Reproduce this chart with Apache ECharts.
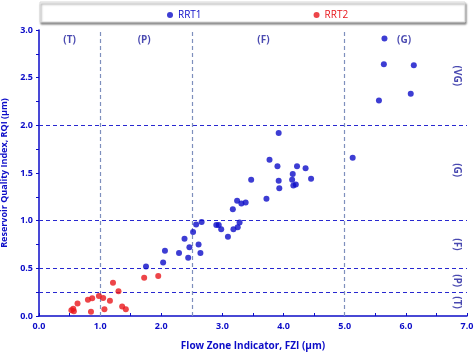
<!DOCTYPE html>
<html>
<head>
<meta charset="utf-8">
<script src="https://cdn.jsdelivr.net/npm/echarts@6/dist/echarts.min.js"></script>
<style>
  html, body { margin: 0; padding: 0; background: #fff; }
  #chart { width: 474px; height: 353px; }
</style>
</head>
<body>
<div id="chart"></div>
<script>
// RRT1 points [FZI, RQI]
const rrt1Points = [
  [1.75, 0.52], [2.03, 0.56], [2.06, 0.685], [2.29, 0.66], [2.38, 0.81],
  [2.44, 0.61], [2.46, 0.72], [2.52, 0.88], [2.57, 0.96], [2.66, 0.985],
  [2.61, 0.75], [2.64, 0.66], [2.90, 0.955], [2.94, 0.955], [2.98, 0.91],
  [3.09, 0.83], [3.18, 0.91], [3.25, 0.93], [3.28, 0.98], [3.17, 1.12],
  [3.24, 1.21], [3.31, 1.18], [3.38, 1.19], [3.72, 1.23], [3.47, 1.43],
  [3.77, 1.64], [3.92, 1.92], [3.90, 1.57], [3.92, 1.42], [3.93, 1.34],
  [4.15, 1.49], [4.14, 1.43], [4.16, 1.37], [4.20, 1.38], [4.22, 1.57],
  [4.36, 1.55], [4.45, 1.44], [5.13, 1.66], [5.65, 2.91], [5.64, 2.64],
  [6.13, 2.63], [5.56, 2.26], [6.08, 2.33]
];

// RRT2 points [FZI, RQI]
const rrt2Points = [
  [0.53, 0.06], [0.56, 0.075], [0.57, 0.05], [0.63, 0.13], [0.80, 0.17],
  [0.87, 0.185], [0.85, 0.045], [0.98, 0.21], [1.05, 0.19], [1.07, 0.07],
  [1.16, 0.16], [1.21, 0.35], [1.30, 0.26], [1.36, 0.10], [1.42, 0.07],
  [1.72, 0.40], [1.95, 0.42]
];

// zone boundaries
const fziBounds = [1.0, 2.5, 5.0];
const rqiBounds = [2.0, 1.0, 0.5, 0.25];

// zone labels
const topLabels = [["(T)", 0.5, 2.89], ["(P)", 1.72, 2.89], ["(F)", 3.67, 2.89], ["(G)", 5.97, 2.89]];
const sideLabels = [["(VG)", 6.83, 2.52], ["(G)", 6.83, 1.53], ["(F)", 6.83, 0.75], ["(P)", 6.83, 0.37], ["(T)", 6.83, 0.14]];

const blue = "#0c0cc8";
const red = "#e8161b";
const fontFam = "'Open Sans', 'Noto Sans', sans-serif";

const chart = echarts.init(document.getElementById("chart"));

const option = {
  animation: false,
  textStyle: { fontFamily: fontFam },
  graphic: [
    {
      type: "rect",
      shape: { x: 40, y: 2, width: 425, height: 20 },
      style: {
        fill: "#fff",
        stroke: "#d8d8d8",
        lineWidth: 1,
        shadowBlur: 2,
        shadowOffsetX: 1,
        shadowOffsetY: 2,
        shadowColor: "rgba(0,0,0,0.45)"
      },
      z: 0
    }
  ],
  legend: {
    left: 162,
    top: 5,
    itemGap: 112,
    itemWidth: 6,
    itemHeight: 6,
    icon: "circle",
    z: 10,
    data: [
      { name: "RRT1", textStyle: { color: blue } },
      { name: "RRT2", textStyle: { color: red } }
    ],
    textStyle: { fontSize: 10, fontFamily: fontFam }
  },
  grid: { left: 39, right: 7, top: 30, bottom: 37, outerBoundsMode: "none" },
  xAxis: {
    type: "value",
    min: 0,
    max: 7,
    interval: 0.5,
    name: "Flow Zone Indicator, FZI (μm)",
    nameLocation: "middle",
    nameGap: 25,
    nameTextStyle: { color: blue, fontWeight: "bold", fontSize: 10 },
    axisLine: { show: true, lineStyle: { color: blue, width: 1.5 } },
    axisTick: { show: true, inside: true, length: 3, lineStyle: { color: blue } },
    axisLabel: {
      color: blue,
      fontWeight: "bold",
      fontSize: 9,
      margin: 6,
      formatter: v => (Math.abs(v % 1) < 1e-9 ? v.toFixed(1) : "")
    },
    splitLine: { show: false }
  },
  yAxis: {
    type: "value",
    min: 0,
    max: 3,
    interval: 0.5,
    name: "Reservoir Quality Index, RQI (μm)",
    nameLocation: "middle",
    nameGap: 26,
    nameTextStyle: { color: blue, fontWeight: "bold", fontSize: 9 },
    axisLine: { show: true, lineStyle: { color: blue, width: 1.5 } },
    axisTick: { show: true, length: 3, lineStyle: { color: blue } },
    minorTick: { show: true, splitNumber: 2, length: 3, lineStyle: { color: blue } },
    axisLabel: {
      color: blue,
      fontWeight: "bold",
      fontSize: 9,
      margin: 6,
      formatter: v => v.toFixed(1)
    },
    splitLine: { show: false }
  },
  series: [
    {
      name: "RRT1",
      type: "scatter",
      symbolSize: 6,
      itemStyle: { color: blue },
      data: rrt1Points,
      z: 5,
      markLine: {
        silent: true,
        symbol: "none",
        animation: false,
        label: { show: false },
        data: [
          ...rqiBounds.map(v => ({ yAxis: v, lineStyle: { color: "#2828d0", type: [4, 3], width: 1.2 } })),
          ...fziBounds.map(v => ({ xAxis: v, lineStyle: { color: "#7e8fbd", type: [4, 3], width: 1.2 } }))
        ]
      }
    },
    {
      name: "RRT2",
      type: "scatter",
      symbolSize: 6,
      itemStyle: { color: red },
      data: rrt2Points,
      z: 5
    },
    {
      name: "topZones",
      type: "scatter",
      symbolSize: 0,
      silent: true,
      data: topLabels.map(d => ({ value: [d[1], d[2]], name: d[0] })),
      label: {
        show: true,
        position: "inside",
        formatter: p => p.name,
        color: "#1b1b9c",
        fontWeight: "bold",
        fontSize: 10
      }
    },
    {
      name: "sideZones",
      type: "scatter",
      symbolSize: 0,
      silent: true,
      data: sideLabels.map(d => ({ value: [d[1], d[2]], name: d[0] })),
      label: {
        show: true,
        position: "inside",
        rotate: -90,
        formatter: p => p.name,
        color: "#1b1b9c",
        fontWeight: "bold",
        fontSize: 10
      }
    }
  ]
};

chart.setOption(option);
window.addEventListener("resize", () => chart.resize());
</script>
</body>
</html>
